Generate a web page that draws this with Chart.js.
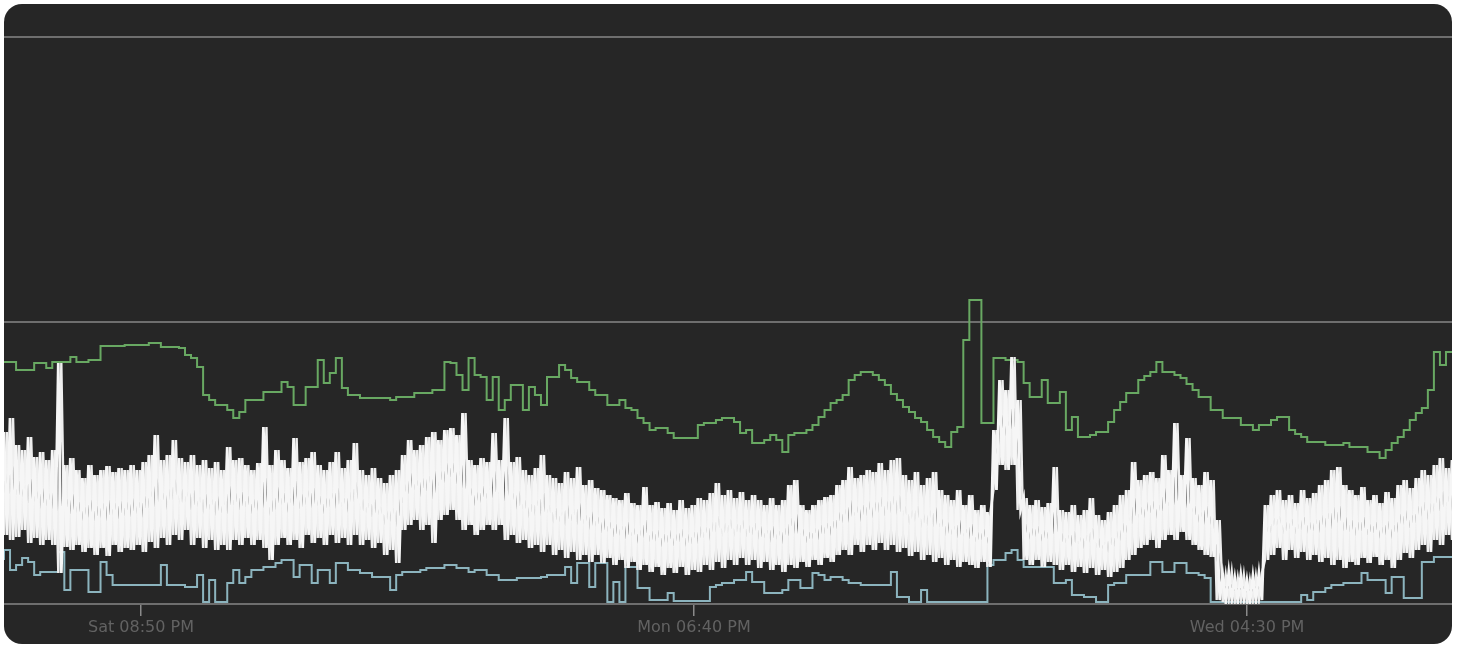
<!DOCTYPE html>
<html>
<head>
<meta charset="utf-8">
<title>Latency</title>
<script src="https://cdn.jsdelivr.net/npm/chart.js@4.4.1/dist/chart.umd.min.js"></script>
<style>
  html, body { margin: 0; padding: 0; background: #ffffff; }
  #card {
    position: absolute;
    left: 4px; top: 4px;
    width: 1448px; height: 640px;
    background: #262626;
    border-radius: 18px;
    overflow: hidden;
  }
</style>
</head>
<body>
<div id="card"><canvas id="chart"></canvas></div>
<script>
// x is hours since the left edge, one sample every 30 min for the step series
const xTickValues = [11.35, 57.18, 103.02];
const xTickLabels = ['Sat 08:50 PM', 'Mon 06:40 PM', 'Wed 04:30 PM'];
const yGridValues = [0, 282, 567];

// upper step line (green)
const greenValues = [
  242,242,242,234,234,234,241,241,236,242,
  242,242,247,242,242,244,244,258,258,258,
  258,259,259,259,259,261,261,257,257,257,
  256,249,246,237,209,204,199,199,194,186,
  192,204,204,204,212,212,212,222,217,199,
  199,217,217,244,221,231,246,216,209,209,
  206,206,206,206,206,204,207,207,207,211,
  211,211,214,214,242,241,229,214,246,229,
  227,204,227,194,204,219,219,194,217,209,
  199,227,227,239,234,226,222,222,214,209,
  209,199,199,204,196,194,186,181,174,176,
  176,171,166,166,166,166,179,181,181,184,
  186,186,182,171,174,161,161,164,169,164,
  152,169,171,171,174,179,187,194,201,204,
  209,224,229,232,232,229,224,219,210,204,
  197,192,186,182,174,167,162,157,172,177,
  264,304,304,181,181,246,246,244,244,242,
  221,207,207,224,201,201,212,174,187,167,
  167,169,172,172,182,194,202,211,211,224,
  228,232,242,232,232,229,226,220,214,207,
  207,194,194,186,186,186,179,179,174,179,
  179,184,187,187,174,170,167,162,162,162,
  159,159,159,161,157,157,157,152,152,146,
  154,161,167,174,184,191,196,214,252,239,
  252
];

// lower step line (teal)
const tealValues = [
  44,54,34,39,46,42,29,32,32,32,
  52,14,34,34,34,12,12,42,29,19,
  19,19,19,19,19,19,19,39,19,19,
  19,17,17,29,2,24,2,2,21,34,
  21,27,34,34,37,37,41,44,44,27,
  39,39,21,34,34,21,41,41,34,34,
  31,31,27,27,27,14,29,32,32,32,
  34,36,36,36,39,39,36,36,32,34,
  34,29,29,24,24,24,26,26,26,26,
  27,29,29,29,37,21,41,41,17,41,
  41,2,22,2,37,37,16,16,4,4,
  4,11,3,3,3,3,3,3,17,19,
  21,21,24,24,32,22,22,11,11,11,
  14,24,24,16,16,31,29,24,27,27,
  24,21,21,19,19,19,19,19,32,7,
  7,2,2,14,2,2,2,2,2,2,
  2,2,2,2,39,44,44,51,54,44,
  37,37,37,37,37,21,21,24,9,9,
  7,7,2,2,19,21,21,29,29,29,
  29,42,42,32,32,41,41,31,31,29,
  26,2,2,2,2,2,2,2,2,2,
  2,2,2,2,2,2,9,4,12,12,
  16,19,19,21,21,21,31,24,24,24,
  11,27,27,6,6,6,42,42,47,47,
  47
];

// noisy series (white): peak and trough read for each 30 min slot
const whiteHigh = [
  172,186,159,154,167,147,152,144,154,241,
  139,146,134,126,139,129,134,138,132,136,
  134,139,134,142,149,169,144,149,164,146,
  142,149,139,144,136,142,134,157,144,146,
  139,134,141,177,139,154,144,136,166,142,
  146,152,139,134,142,152,136,144,161,134,
  129,136,126,121,129,134,149,164,154,159,
  167,172,164,174,176,169,191,144,139,146,
  142,171,144,186,142,147,134,129,136,149,
  129,126,121,132,126,137,119,124,116,114,
  109,106,104,111,101,99,117,99,102,96,
  101,94,104,96,99,106,104,111,121,109,
  114,106,112,104,109,104,99,106,99,104,
  119,124,99,94,99,104,107,109,119,124,
  137,126,129,134,132,141,134,144,146,129,
  124,132,119,126,132,114,109,104,114,99,
  109,94,99,92,174,224,214,247,204,106,
  99,104,97,101,137,94,92,99,89,94,
  106,89,84,92,99,109,114,142,124,129,
  132,126,149,134,181,129,166,126,119,132,
  124,84,29,32,26,29,24,28,31,99,
  109,114,104,109,101,114,106,111,119,124,
  134,137,119,114,109,117,104,109,101,112,
  106,119,124,116,126,134,129,139,146,136,
  144
];
const whiteLow = [
  69,64,67,74,61,66,59,64,59,31,
  57,54,59,52,56,49,56,48,59,52,
  56,54,59,52,62,56,66,59,69,64,
  74,59,66,56,64,54,59,54,64,59,
  66,59,64,56,44,59,66,59,64,56,
  69,61,66,59,69,61,66,59,69,59,
  64,56,61,49,54,41,74,79,84,74,
  79,61,84,89,94,84,74,79,69,74,
  79,74,79,64,69,61,64,56,59,52,
  59,49,54,46,52,44,49,42,49,41,
  46,39,44,36,42,34,39,32,37,29,
  36,31,37,29,34,32,39,34,42,36,
  44,39,46,39,44,36,42,34,39,32,
  39,36,42,37,44,39,46,42,49,54,
  49,59,52,59,54,61,54,59,52,56,
  48,52,44,49,42,46,39,44,37,42,
  39,36,42,37,114,139,134,139,94,44,
  39,44,37,42,39,34,39,32,37,31,
  36,29,34,27,32,36,44,49,56,59,
  64,56,64,69,64,72,64,59,54,49,
  47,4,2,4,2,4,1,3,4,44,
  49,56,44,54,46,52,44,49,42,46,
  39,44,36,42,39,46,41,47,39,44,
  36,44,51,46,54,59,52,64,59,69,
  64
];

const greenPoints = greenValues.map((v, i) => ({ x: i * 0.5, y: v }));
const tealPoints = tealValues.map((v, i) => ({ x: i * 0.5, y: v }));

// the same peaks/troughs traced twice, out of phase, to get the dense band
const whitePoints = [];
const whitePointsB = [];
whiteHigh.forEach((v, i) => {
    whitePoints.push({ x: i * 0.5, y: v });
    whitePoints.push({ x: i * 0.5 + 0.25, y: whiteLow[i] });
    whitePointsB.push({ x: i * 0.5, y: whiteLow[i] });
    whitePointsB.push({ x: i * 0.5 + 0.25, y: v });
});

const ctx = document.getElementById('chart').getContext('2d');
new Chart(ctx, {
    type: 'line',
    data: {
        datasets: [{
            label: 'requests',
            data: whitePoints,
            borderColor: '#f6f6f6',
            borderWidth: 2.8,
            pointRadius: 0,
            order: 0
        }, {
            label: 'requests (b)',
            data: whitePointsB,
            borderColor: '#eeeeee',
            borderWidth: 2.4,
            pointRadius: 0,
            order: 0
        }, {
            label: 'upper',
            data: greenPoints,
            borderColor: '#68a862',
            borderWidth: 2,
            stepped: 'after',
            pointRadius: 0,
            order: 1
        }, {
            label: 'lower',
            data: tealPoints,
            borderColor: '#8cb4be',
            borderWidth: 2,
            stepped: 'after',
            pointRadius: 0,
            order: 2
        }]
    },
    options: {
        responsive: true,
        maintainAspectRatio: false,
        animation: false,
        layout: { padding: { top: 33, left: 0, right: 0, bottom: 0 } },
        plugins: {
            legend: { display: false },
            tooltip: { enabled: false }
        },
        scales: {
            x: {
                type: 'linear',
                min: 0,
                max: 120,
                afterBuildTicks: scale => { scale.ticks = xTickValues.map(v => ({ value: v })); },
                afterFit: scale => { scale.height = 40; },
                border: { display: false },
                grid: { drawOnChartArea: false, color: '#8a8a8a', lineWidth: 1.5, tickLength: 12 },
                ticks: {
                    callback: (value, index) => xTickLabels[index],
                    color: '#626262',
                    font: { family: 'DejaVu Sans', size: 16 },
                    padding: 2,
                    maxRotation: 0,
                    autoSkip: false
                }
            },
            y: {
                min: 0,
                max: 567,
                afterBuildTicks: scale => { scale.ticks = yGridValues.map(v => ({ value: v })); },
                afterFit: scale => { scale.width = 0; },
                border: { display: false },
                grid: { color: '#6e6e6e', lineWidth: 2, drawTicks: false },
                ticks: { display: false }
            }
        }
    }
});
</script>
</body>
</html>
